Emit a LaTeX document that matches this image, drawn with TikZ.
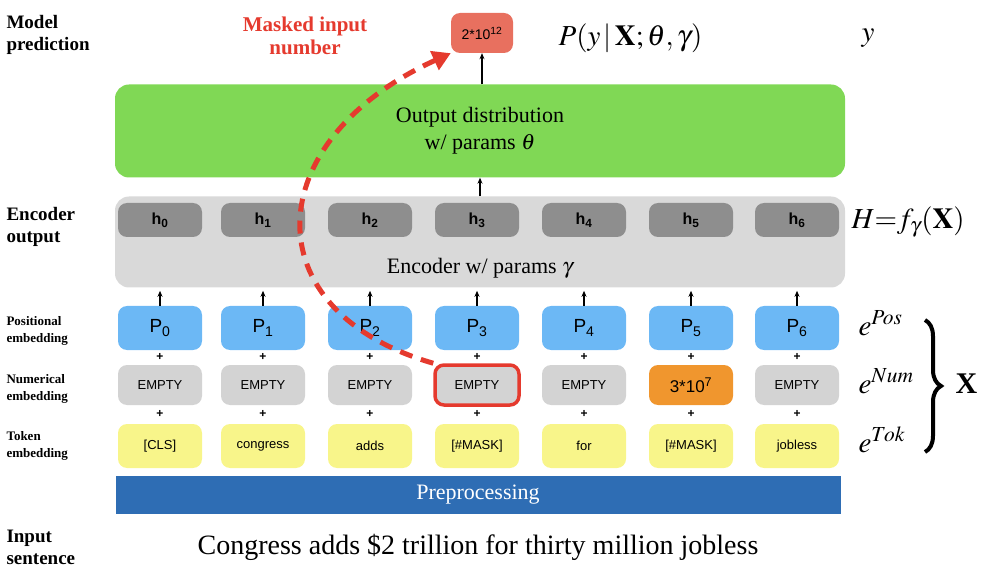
\documentclass[tikz,border=0pt]{standalone}
\usepackage{mathptmx}
\usepackage{fontspec}
\setmainfont{Liberation Serif}
\newfontfamily\hv{Liberation Sans}
\usetikzlibrary{arrows.meta,decorations.pathreplacing}
\definecolor{grn}{HTML}{80D855}
\definecolor{enc}{HTML}{D9D9D9}
\definecolor{hgr}{HTML}{8E8E8E}
\definecolor{pbl}{HTML}{6CB8F5}
\definecolor{emp}{HTML}{D3D3D3}
\definecolor{org}{HTML}{F0962E}
\definecolor{yel}{HTML}{F8F58A}
\definecolor{pre}{HTML}{2E6DB4}
\definecolor{sal}{HTML}{E8705F}
\definecolor{rd}{HTML}{E53A2E}
\tikzset{
 cell/.style={rounded corners=9pt,minimum width=84pt,inner sep=0pt,font=\hv\fontsize{13}{14}\selectfont},
 hb/.style={cell,fill=hgr,minimum height=34pt,font=\hv\bfseries\fontsize{16}{17}\selectfont},
 pb/.style={cell,fill=pbl,minimum height=44pt,font=\hv\fontsize{19}{20}\selectfont},
 eb/.style={cell,fill=emp,minimum height=40pt},
 tb/.style={cell,fill=yel,minimum height=44pt},
 lab/.style={font=\bfseries\fontsize{19}{22}\selectfont,align=left,anchor=west},
 slab/.style={font=\bfseries\fontsize{13}{17}\selectfont,align=left,anchor=west},
 arr/.style={-{Stealth[length=6pt,width=5pt]},line width=1.6pt},
 plus/.style={font=\hv\bfseries\fontsize{12}{12}\selectfont},
 mth/.style={font=\fontsize{29}{29}\selectfont,anchor=west}
}
\begin{document}
\begin{tikzpicture}[x=1pt,y=-1pt]
\useasboundingbox (0,0) rectangle (1002,572);
\node[lab] at (3,35) {Model\\prediction};
\node[lab] at (3,227) {Encoder\\output};
\node[slab] at (3,331) {Positional\\embedding};
\node[slab] at (3,389) {Numerical\\embedding};
\node[slab] at (3,446) {Token\\embedding};
\node[lab] at (3,547) {Input\\sentence};
\node[fill=grn,rounded corners=14pt,minimum width=730pt,minimum height=93pt,align=center,font=\fontsize{22}{27}\selectfont] (out) at (480,131) {Output distribution\\w/ params $\theta$};
\node[fill=enc,rounded corners=14pt,minimum width=730pt,minimum height=91pt] (enc) at (480,242) {};
\node[font=\fontsize{22}{22}\selectfont] (enct) at (480,268) {Encoder w/ params $\gamma$};
\node[fill=sal,rounded corners=9pt,minimum width=62pt,minimum height=40pt,font=\hv\fontsize{14}{14}\selectfont] (pred) at (482,33) {2*10\textsuperscript{12}};
\foreach \i/\x in {0/160,1/263,2/370,3/477,4/584,5/691,6/797}{
 \node[hb] (h\i) at (\x,220) {h\textsubscript{\i}};
 \node[pb] (p\i) at (\x,328) {P\textsubscript{\i}};
 \node[plus] at (\x,357) {+};
 \node[plus] at (\x,414) {+};
 \draw[arr] (p\i.north) -- ++(0,-15);
}
\foreach \i/\x in {0/160,1/263,2/370,4/584,6/797}{\node[eb] (n\i) at (\x,385) {EMPTY};}
\node[eb,draw=rd,line width=3.5pt] (n3) at (477,385) {EMPTY};
\node[cell,fill=org,minimum height=40pt,font=\hv\fontsize{17}{17}\selectfont] (n5) at (691,385) {3*10\textsuperscript{7}};
\foreach \i/\x/\t in {0/160/[CLS],1/263/congress,2/370/adds,3/477/[\#MASK],4/584/for,5/691/[\#MASK],6/797/jobless}{
 \node[tb] (t\i) at (\x,446) {\t};}
\draw[arr] (enc.north -| out.center) -- (out.south);
\draw[arr] (out.north -| pred.center) -- (pred.south);
\node[fill=pre,minimum width=725pt,minimum height=38pt,text=white,font=\fontsize{22}{22}\selectfont] (prep) at (478,495) {Preprocessing};
\node[font=\fontsize{28}{28}\selectfont] (sent) at (478,547) {Congress adds \$2 trillion for thirty million jobless};
\node[font=\bfseries\fontsize{21}{23}\selectfont,text=rd,align=center] (mask) at (305,36) {Masked input\\number};
\draw[rd,line width=5pt,dash pattern=on 13pt off 9pt,-{Triangle[length=18pt,width=20pt]}] (n3.north west) .. controls (250,310) and (260,140) .. (pred.south west);
\node[mth] (py) at (555,38) {$P(y\,|\,\mathbf{X};\theta,\gamma)$};
\node[mth] (yy) at (858,38) {$y$};
\node[mth] (H) at (848,222) {$H{=}f_\gamma(\mathbf{X})$};
\node[mth] (ep) at (855,323) {$e^{Pos}$};
\node[mth] (en) at (855,381) {$e^{Num}$};
\node[mth] (et) at (855,440) {$e^{Tok}$};
\draw[decorate,decoration={brace,amplitude=16pt},line width=4pt] (925,320) -- (925,452);
\node[mth,font=\bfseries\fontsize{30}{30}\selectfont] (X) at (952,384) {X};
\end{tikzpicture}
\end{document}
